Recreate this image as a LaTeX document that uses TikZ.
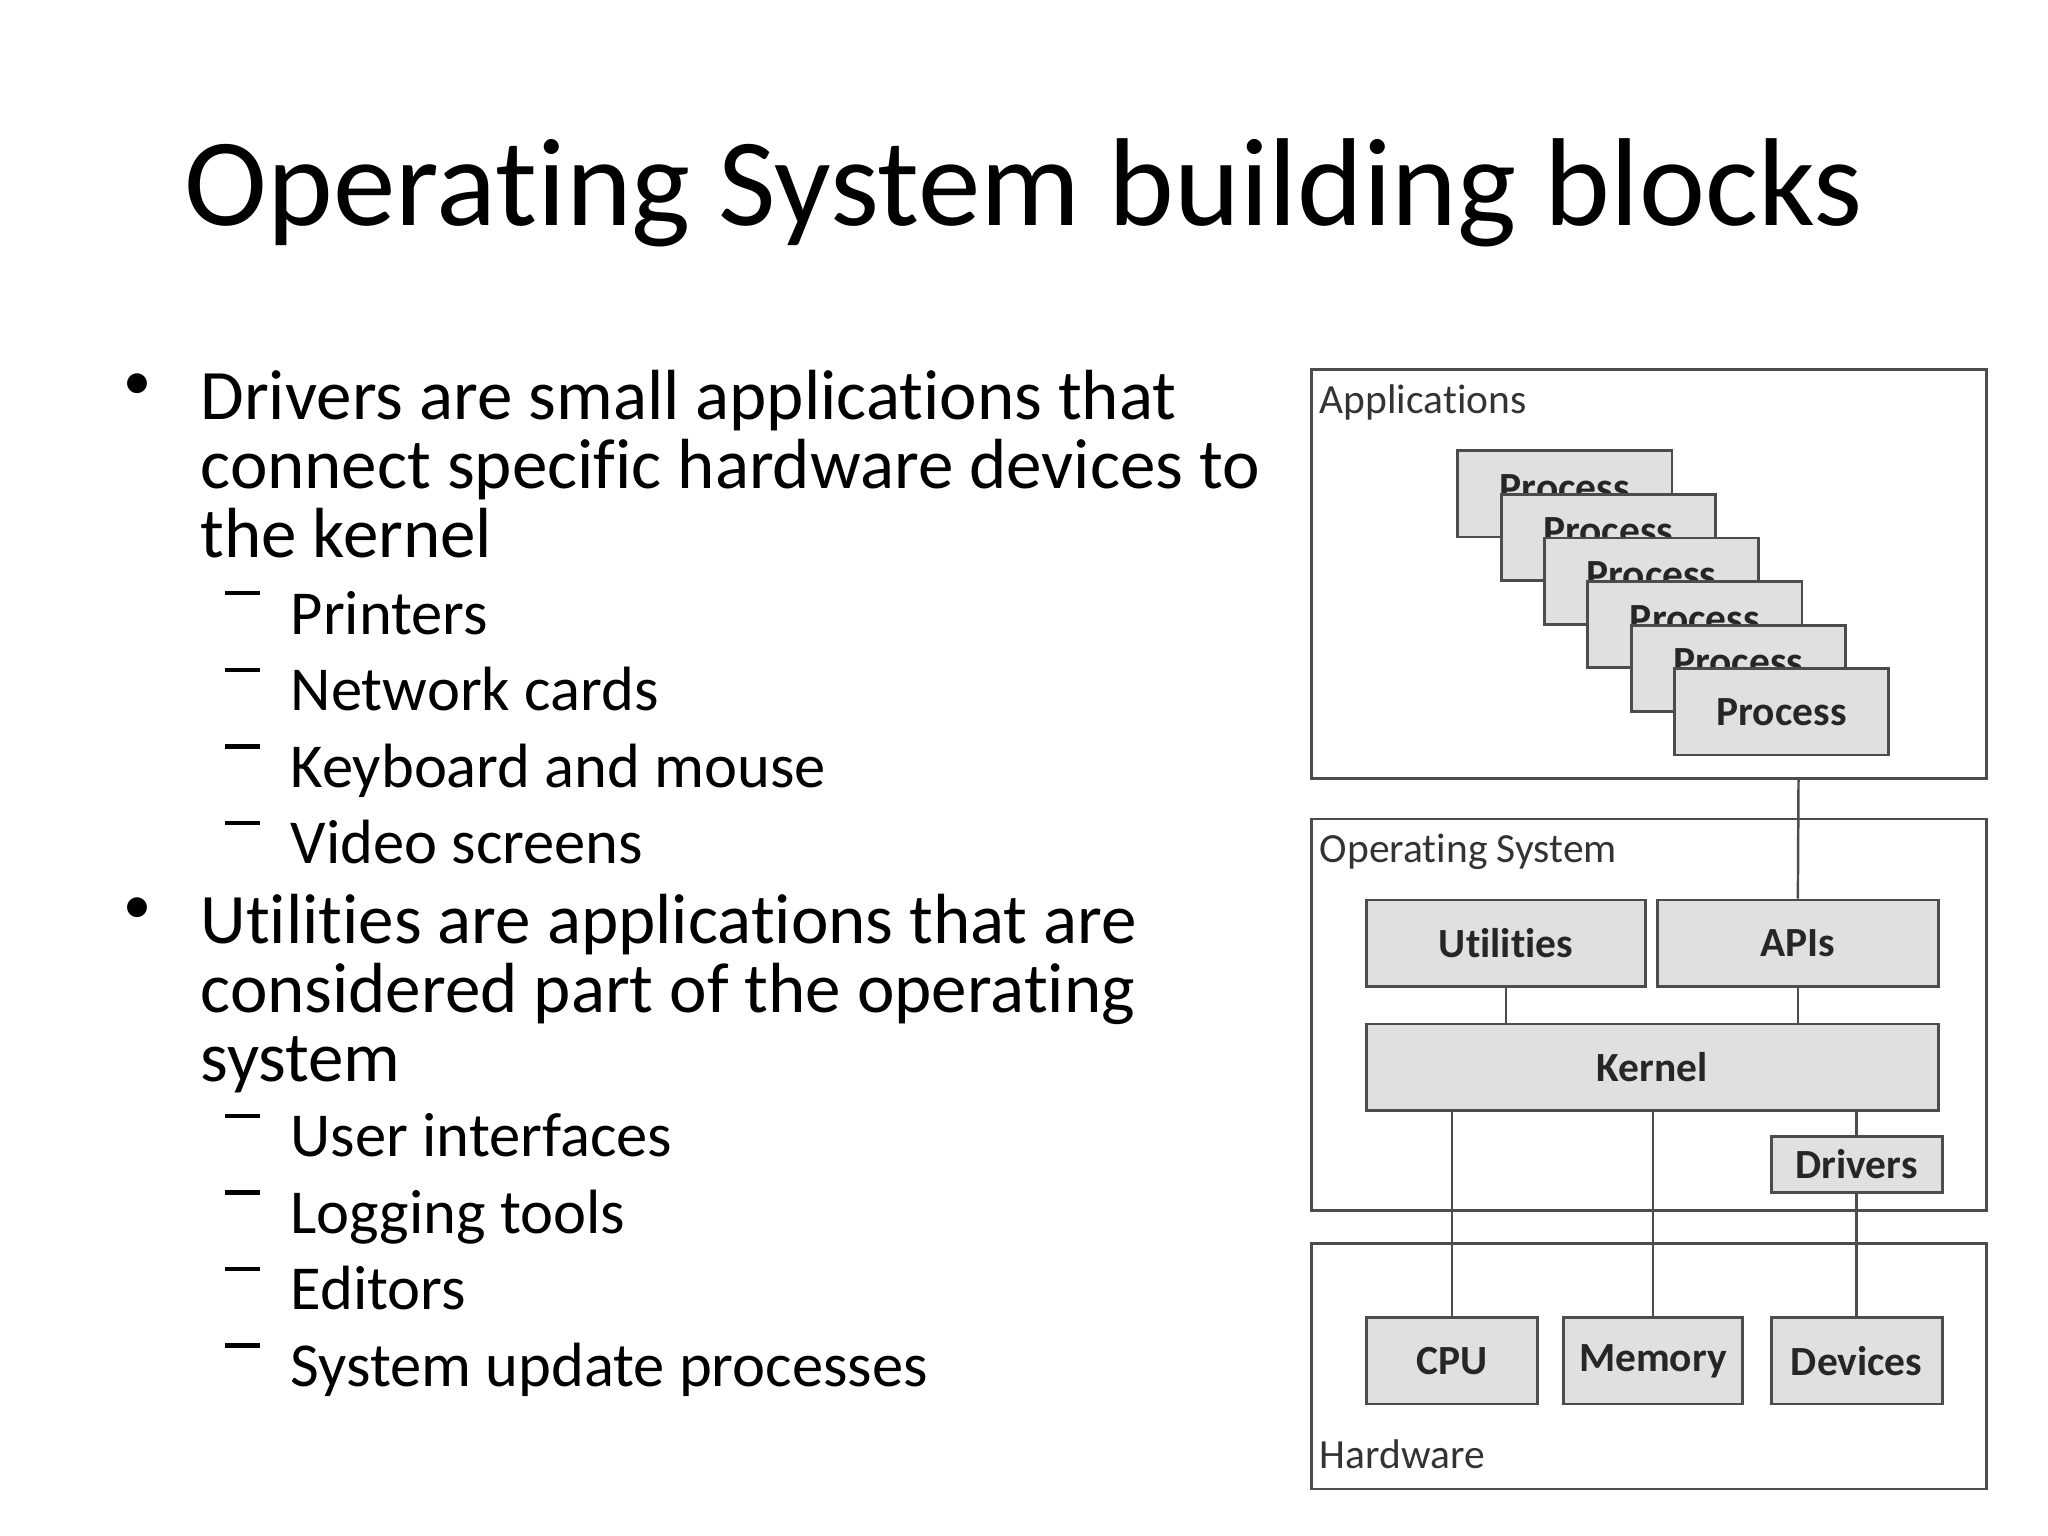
\documentclass[tikz,border=0pt]{standalone}
\usepackage{fontspec}
\setmainfont{Carlito}[RawFeature={-liga}]
\newcommand{\dashmark}{\rule[0.24em]{0.55em}{0.07em}}
\begin{document}
\begin{tikzpicture}[x=0.013061cm,y=-0.013061cm,
  box/.style={draw=black!70,fill=black!12,line width=0.8pt,font=\fontsize{11.8}{13}\selectfont\bfseries,text=black!85},
  frame/.style={draw=black!70,line width=0.8pt},
  lbl/.style={anchor=north west,font=\fontsize{11.8}{13}\selectfont,text=black!80,inner sep=0pt},
  link/.style={draw=black!70,line width=0.7pt},
  body/.style={anchor=north west,align=left,inner sep=0pt,font=\fontsize{20.2}{19.6}\selectfont},
  sub/.style={anchor=north west,align=left,inner sep=0pt,font=\fontsize{17.8}{21.8}\selectfont}]
\useasboundingbox (0,0) rectangle (1568,1176);

% title
\node (title) at (784,148) {\fontsize{35.6}{40}\selectfont Operating System building blocks};

% bullets
\node (b1) [body] at (94,286) {\fontsize{16}{19.6}\selectfont\textbullet};
\node (t1) [body] at (153,283) {Drivers are small applications that\\connect specific hardware devices to\\the kernel};
\node (s1) [sub] at (172,452) {\dashmark\\\dashmark\\\dashmark\\\dashmark};
\node (u1) [sub] at (222,452) {Printers\\Network cards\\Keyboard and mouse\\Video screens};
\node (b2) [body] at (94,687) {\fontsize{16}{19.6}\selectfont\textbullet};
\node (t2) [body] at (153,684) {Utilities are applications that are\\considered part of the operating\\system};
\node (s2) [sub] at (172,852) {\dashmark\\\dashmark\\\dashmark\\\dashmark};
\node (u2) [sub] at (222,852) {User interfaces\\Logging tools\\Editors\\System update processes};

% containers
\draw[frame] (1004,283) rectangle (1521,596);
\coordinate (appsb) at (1377,596);
\node[lbl] (lapps) at (1010,294) {Applications};
\draw[frame] (1004,627) rectangle (1521,927);
\node[lbl] (los) at (1010,638) {Operating System};
\draw[frame] (1004,952) rectangle (1521,1140);
\node[lbl] (lhw) at (1010,1102) {Hardware};

% processes, each covering the lower part of the one before
\foreach \i in {0,...,4}
  \node[box,minimum width=164*0.013061cm,minimum height=66*0.013061cm,anchor=north west,inner sep=0pt]
    (p\i) at (1115+33.2*\i,344+33.4*\i) {\raisebox{0.12cm}{Process}};
\node[box,minimum width=164*0.013061cm,minimum height=66*0.013061cm,anchor=north west,inner sep=0pt]
    (p5) at (1281,511) {Process};

% OS blocks
\node[box,minimum width=214*0.013061cm,minimum height=66*0.013061cm] (util) at (1153,722) {Utilities};
\node[box,minimum width=215*0.013061cm,minimum height=66*0.013061cm] (apis) at (1376.5,722) {APIs};
\node[box,minimum width=438*0.013061cm,minimum height=66*0.013061cm] (kernel) at (1265,817) {Kernel};
\node[box,minimum width=131*0.013061cm,minimum height=43*0.013061cm] (drv) at (1421.5,891.5) {Drivers};
\node[box,minimum width=131*0.013061cm,minimum height=66*0.013061cm] (cpu) at (1111.5,1042) {CPU};
\node[box,minimum width=137*0.013061cm,minimum height=66*0.013061cm] (mem) at (1265.5,1042) {Memory};
\node[box,minimum width=131*0.013061cm,minimum height=66*0.013061cm] (dev) at (1421.5,1042) {Devices};

% links
\draw[link] (appsb) -- (apis.north);
\draw[link] (util) -- (util|-kernel.north);
\draw[link] (apis) -- (apis|-kernel.north);
\draw[link] (kernel.south-|cpu) -- (cpu.north);
\draw[link] (kernel.south-|mem) -- (mem.north);
\draw[link] (kernel.south-|drv) -- (drv.north);
\draw[link] (drv) -- (dev);
\end{tikzpicture}
\end{document}
